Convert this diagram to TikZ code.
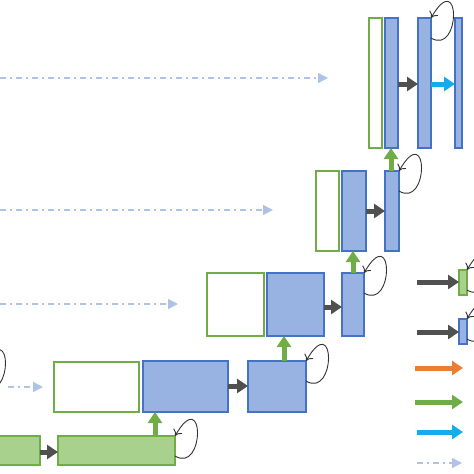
\documentclass[tikz,border=0pt]{standalone}
\usetikzlibrary{arrows.meta,fit}
\definecolor{bfill}{HTML}{98B2E1}
\definecolor{bline}{HTML}{4472C4}
\definecolor{gfill}{HTML}{A9D18E}
\definecolor{gline}{HTML}{70AD47}
\definecolor{darka}{HTML}{505050}
\definecolor{cyana}{HTML}{12AEEA}
\definecolor{orangea}{HTML}{ED7D31}
\definecolor{dasha}{HTML}{AFC3E6}
\definecolor{loopc}{HTML}{333333}
\tikzset{
  box/.style={rectangle,inner sep=0pt,outer sep=0pt,line width=1.3pt},
  bluebox/.style={box,draw=bline,fill=bfill},
  greenbox/.style={box,draw=gline,fill=white},
  greenfill/.style={box,draw=gline,fill=gfill},
  blockarrow/.style={line width=5pt,-{Triangle[length=11pt,width=14pt]}},
  darkarrow/.style={blockarrow,darka},
  greenarrow/.style={blockarrow,gline},
  cyanarrow/.style={blockarrow,cyana},
  orangearrow/.style={blockarrow,orangea},
  dasharrow/.style={dasha,line width=1.4pt,dash pattern=on 6pt off 4pt on 2pt off 4pt,-{Triangle[length=10pt,width=10pt]}},
  loopline/.style={loopc,line width=0.9pt,-{To[length=6pt,width=10pt]}}
}
\newcommand\selfloop[1]{\draw[loopline] ([yshift=-20pt]#1.north east) .. controls +(30,18) and +(30,-52) .. (#1.north east);}
\begin{document}
\begin{tikzpicture}[x=1pt,y=-1pt]
\useasboundingbox (0,0) rectangle (474,474);
\clip (0,0) rectangle (474,474);
% level 4
\node[greenbox,fit={(369,18) (382,148)}] (g4) {};
\node[bluebox,fit={(385,18) (398,148)}] (b4a) {};
\node[bluebox,fit={(418,18) (431,148)}] (b4b) {};
\node[bluebox,fit={(455,18) (462,148)}] (b4c) {};
% level 3
\node[greenbox,fit={(316,171) (339,251)}] (g3) {};
\node[bluebox,fit={(342,171) (366,251)}] (b3a) {};
\node[bluebox,fit={(385,171) (399,251)}] (b3b) {};
% level 2
\node[greenbox,fit={(207,273) (264,336)}] (g2) {};
\node[bluebox,fit={(267,273) (324,336)}] (b2a) {};
\node[bluebox,fit={(342,273) (364,336)}] (b2b) {};
% level 1
\node[greenbox,fit={(54,362) (139,412)}] (g1) {};
\node[bluebox,fit={(143,361) (228,412)}] (b1a) {};
\node[bluebox,fit={(248,361) (306,412)}] (b1b) {};
% level 0
\node[greenfill,fit={(-5,436) (40,465)}] (f0a) {};
\node[greenfill,fit={(58,436) (175,465)}] (f0b) {};
% legend boxes
\node[greenfill,fit={(459,270) (467,295)}] (lg) {};
\node[bluebox,fit={(459,319) (467,344)}] (lb) {};
% horizontal dark arrows
\draw[darkarrow] (f0a.east |- 0,452) -- (f0b.west |- 0,452);
\draw[darkarrow] (b1a.east |- 0,386) -- (b1b.west |- 0,386);
\draw[darkarrow] (b2a.east |- 0,307) -- (b2b.west |- 0,307);
\draw[darkarrow] (b3a.east |- 0,211) -- (b3b.west |- 0,211);
\draw[darkarrow] (b4a.east |- 0,84) -- (b4b.west |- 0,84);
\draw[cyanarrow] (b4b.east |- 0,84) -- (b4c.west |- 0,84);
% vertical green arrows
\draw[greenarrow] (f0b.north -| 155,0) -- (b1a.south -| 155,0);
\draw[greenarrow] (b1b.north -| 284,0) -- (b2a.south -| 284,0);
\draw[greenarrow] (b2b.north -| 353,0) -- (b3a.south -| 353,0);
\draw[greenarrow] (b3b.north -| 391,0) -- (b4a.south -| 391,0);
% self loops
\selfloop{f0b}
\selfloop{b1b}
\selfloop{b2b}
\selfloop{b3b}
\selfloop{b4b}
\selfloop{lg}
\selfloop{lb}
\coordinate (cut) at (-17,366);
\draw[loopc,line width=0.9pt] ([yshift=-20pt]cut) .. controls +(30,18) and +(30,-52) .. (cut);
% dashed skip arrows
\coordinate (d1s) at (0,78); \coordinate (d1e) at (328,78);
\coordinate (d2s) at (0,210); \coordinate (d2e) at (273,210);
\coordinate (d3s) at (0,304); \coordinate (d3e) at (178,304);
\coordinate (d4s) at (8,387); \coordinate (d4e) at (43,387);
\draw[dasharrow] (d1s) -- (d1e);
\draw[dasharrow] (d2s) -- (d2e);
\draw[dasharrow] (d3s) -- (d3e);
\draw[dasharrow] (d4s) -- (d4e);
% legend arrows
\coordinate (la1) at (417,282);
\coordinate (la2) at (417,332);
\draw[darkarrow] (la1) -- (lg.west |- la1);
\draw[darkarrow] (la2) -- (lb.west |- la2);
\coordinate (lo1) at (415,368); \coordinate (lo2) at (463,368);
\coordinate (lgr1) at (415,402); \coordinate (lgr2) at (463,402);
\coordinate (lc1) at (417,432); \coordinate (lc2) at (463,432);
\coordinate (ld1) at (417,463); \coordinate (ld2) at (462,463);
\draw[orangearrow] (lo1) -- (lo2);
\draw[greenarrow] (lgr1) -- (lgr2);
\draw[cyanarrow] (lc1) -- (lc2);
\draw[dasharrow] (ld1) -- (ld2);
\end{tikzpicture}
\end{document}
